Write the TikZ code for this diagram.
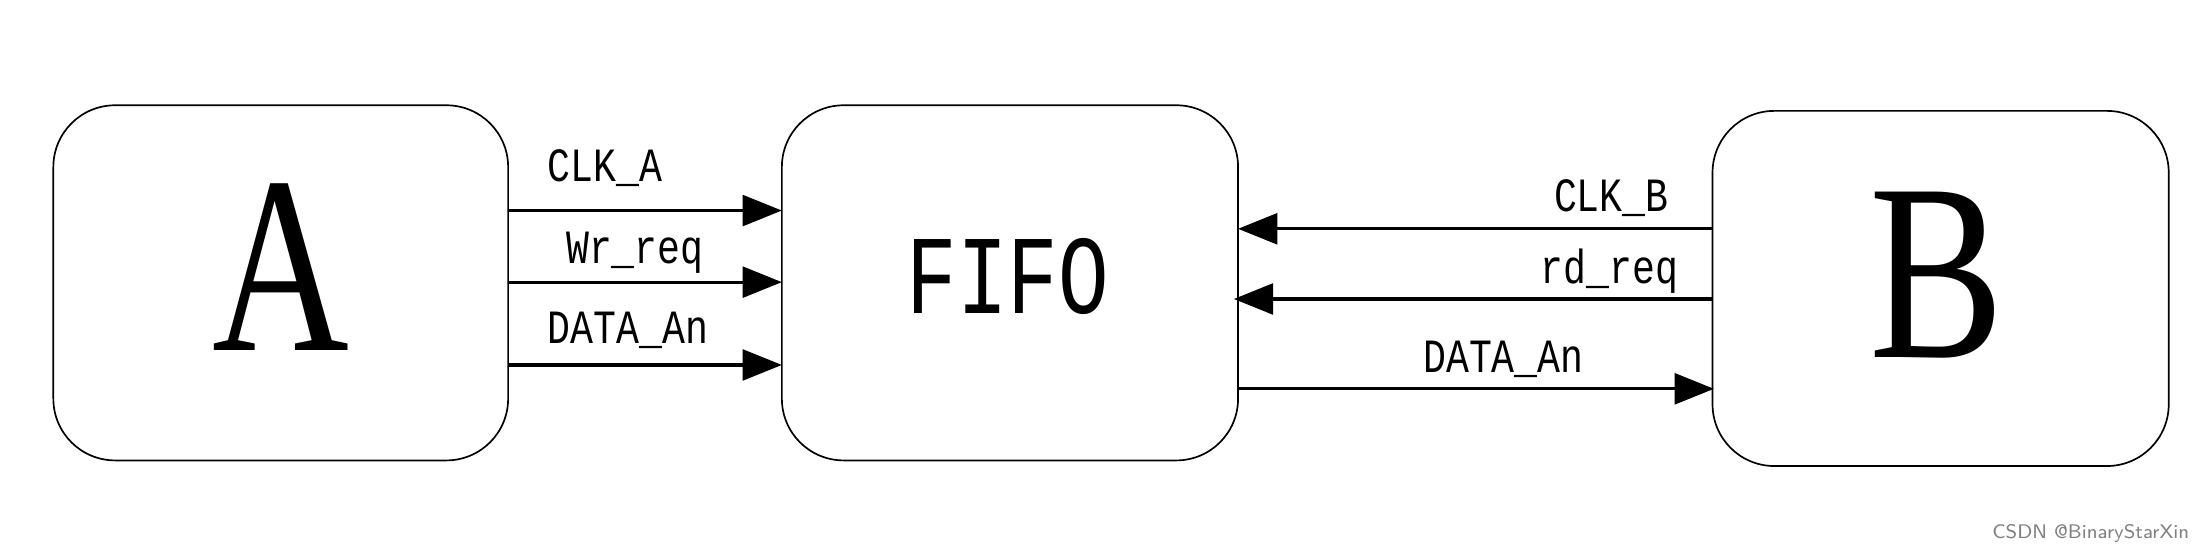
\documentclass[tikz,border=0pt]{standalone}
\usepackage{fontspec}
\setmainfont{Liberation Serif}
\newfontfamily\monof{Liberation Mono}
\usetikzlibrary{arrows.meta}
\begin{document}
\begin{tikzpicture}[x=0.5pt,y=-0.5pt,
  blk/.style={draw,line width=0.6pt,rounded corners=22pt},
  sig/.style={line width=1.1pt,-{Triangle[length=14pt,width=11pt]}},
  lbl/.style={font=\monof\fontsize{17}{17}\selectfont,inner sep=0pt,xscale=0.8}]
\useasboundingbox (0,0) rectangle (1568,395);
\draw[blk] (38,75) rectangle (362,328);
\draw[blk] (557,75) rectangle (882,328);
\draw[blk] (1220,79) rectangle (1545,332);
\node (A) at (200,190) {\scalebox{0.75}[1]{\fontsize{90}{90}\selectfont A}};
\node (F) at (718,197) {\scalebox{0.75}[1]{\monof\fontsize{40}{40}\selectfont FIFO}};
\node (B) at (1380,196) {\scalebox{0.8}[1]{\fontsize{90}{90}\selectfont B}};
\coordinate (a1) at (362,150); \coordinate (f1) at (557,150);
\coordinate (a2) at (362,201); \coordinate (f2) at (557,201);
\coordinate (a3) at (362,260); \coordinate (f3) at (557,260);
\coordinate (b1) at (1220,163); \coordinate (f4) at (882,163);
\coordinate (b2) at (1220,213); \coordinate (f5) at (879,213);
\coordinate (f6) at (882,277); \coordinate (b3) at (1221,277);
\draw[sig] (a1) -- (f1);
\draw[sig] (a2) -- (f2);
\draw[sig] (a3) -- (f3);
\draw[sig] (b1) -- (f4);
\draw[sig] (b2) -- (f5);
\draw[sig] (f6) -- (b3);
\node[lbl,anchor=west] (l1) at (390,120) {CLK\_A};
\node[lbl,anchor=west] (l2) at (403,180) {Wr\_req};
\node[lbl,anchor=west] (l3) at (390,235) {DATA\_An};
\node[lbl,anchor=east] (l4) at (1189,141) {CLK\_B};
\node[lbl,anchor=east] (l5) at (1196,193) {rd\_req};
\node[lbl] (l6) at (1071,256) {DATA\_An};
\node[font=\sffamily\fontsize{7}{7}\selectfont,text=gray,anchor=east,inner sep=0pt] (w) at (1560,380) {CSDN @BinaryStarXin};
\end{tikzpicture}
\end{document}
